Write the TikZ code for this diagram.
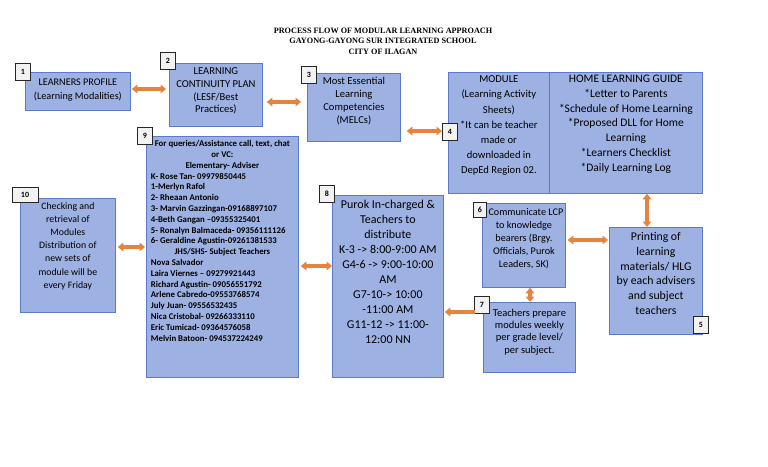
\documentclass[tikz,border=0pt]{standalone}
\usepackage{fontspec}
\setmainfont{Carlito}
\newfontfamily\titlefont{Liberation Serif}
\usetikzlibrary{arrows.meta}
\definecolor{boxfill}{HTML}{9DB1E2}
\definecolor{boxline}{HTML}{5B7BC8}
\definecolor{arrfill}{HTML}{E4843F}
\definecolor{lblfill}{HTML}{F2F2F2}
\tikzset{
  stage/.style={draw=boxline, fill=boxfill, line width=0.8pt, inner sep=0pt, anchor=north west},
  numtag/.style={draw=black!85, fill=lblfill, line width=0.7pt, minimum width=15pt, minimum height=17pt, inner sep=0pt, font=\bfseries\fontsize{8}{9}\selectfont},
  tip/.tip={Triangle[width=9pt,length=5.5pt,line width=0pt]},
  conn/.style={draw=arrfill, line width=3.2pt, {tip}-{tip}},
  conn1/.style={draw=arrfill, line width=3.2pt, -{tip}},
  heading/.style={font=\titlefont\bfseries\fontsize{8.2}{10.5}\selectfont, align=center, inner sep=0pt}
}
% #1 name, #2 left, #3 top, #4 width, #5 height, #6 font, #7 top pad, #8 content
\newcommand\stagebox[8]{%
  \node[stage, minimum width=#4pt, minimum height=#5pt] (#1) at (#2,#3)
  {\begin{minipage}[t][#5pt][t]{#4pt}#6\vspace*{#7pt}#8\end{minipage}};}
\begin{document}
\begin{tikzpicture}[x=1pt,y=-1pt]
\useasboundingbox (0,0) rectangle (768,466);
\fill[white] (0,0) rectangle (768,466);

\node[heading] (title) at (383,41) {PROCESS FLOW OF MODULAR LEARNING APPROACH\\GAYONG-GAYONG SUR INTEGRATED SCHOOL\\CITY OF ILAGAN};

\stagebox{b1}{25}{72}{105}{38}{\fontsize{10.2}{14}\selectfont}{6.5}{\centering LEARNERS PROFILE\\(Learning Modalities)\par}
\stagebox{b2}{169}{63}{93}{63}{\fontsize{10.6}{12.7}\selectfont}{4.4}{\centering LEARNING\\CONTINUITY PLAN\\(LESF/Best\\Practices)\par}
\stagebox{b3}{307}{73}{93}{68}{\fontsize{10.6}{13}\selectfont}{3.4}{\centering Most Essential\\Learning\\Competencies\\(MELCs)\par}
\stagebox{mod}{448}{72}{101}{121}{\fontsize{10.6}{15.2}\selectfont}{3.4}{\centering MODULE\\(Learning Activity\\Sheets)\\{}*It can be teacher\\made or\\downloaded in\\DepEd Region 02.\par}
\stagebox{hlg}{549}{72}{153}{121}{\fontsize{11.5}{14.7}\selectfont}{3}{\centering HOME LEARNING GUIDE\\{}*Letter to Parents\\{}*Schedule of Home Learning\\{}*Proposed DLL for Home\\Learning\\{}*Learners Checklist\\{}*Daily Learning Log\par}
\stagebox{b9}{146}{136}{152}{241}{\bfseries\fontsize{8.8}{10.8}\selectfont}{4.2}{%
\begingroup\centering For queries/Assistance call, text, chat\\or VC:\\Elementary- Adviser\par\endgroup
\begingroup\raggedright\leftskip=4.5pt K- Rose Tan- 09979850445\\1-Merlyn Rafol\\2- Rheaan Antonio\\3- Marvin Gazzingan-09168897107\\4-Beth Gangan --09355325401\\5- Ronalyn Balmaceda- 09356111126\\6- Geraldine Agustin-09261381533\par\endgroup
\begingroup\centering JHS/SHS- Subject Teachers\par\endgroup
\begingroup\raggedright\leftskip=4.5pt Nova Salvador\\Laira Viernes -- 09279921443\\Richard Agustin- 09056551792\\Arlene Cabredo-09553768574\\July Juan- 09556532435\\Nica Cristobal- 09266333110\\Eric Tumicad- 09364576058\\Melvin Batoon- 094537224249\par\endgroup}
\stagebox{b10}{20}{198}{95}{114}{\fontsize{9.8}{13.2}\selectfont}{3.8}{\centering Checking and\\retrieval of\\Modules\\Distribution of\\new sets of\\module will be\\every Friday\par}
\stagebox{b8}{332}{195}{111}{182}{\fontsize{12}{15}\selectfont}{4.8}{\centering Purok In-charged \&\\Teachers to\\distribute\\K-3 -> 8:00-9:00 AM\\G4-6 -> 9:00-10:00\\AM\\G7-10-> 10:00\\-11:00 AM\\G11-12 -> 11:00-\\12:00 NN\par}
\stagebox{b6}{482}{203}{83}{84}{\fontsize{10.2}{13}\selectfont}{5.4}{\centering\hspace*{4pt}Communicate LCP\\to knowledge\\bearers (Brgy.\\Officials, Purok\\Leaders, SK)\par}
\stagebox{b7}{483}{302}{92}{70}{\fontsize{10.5}{12.3}\selectfont}{6.5}{\centering Teachers prepare\\modules weekly\\per grade level/\\per subject.\par}
\stagebox{b5}{609}{227}{93}{107}{\fontsize{11.8}{14.8}\selectfont}{4.9}{\centering Printing of\\learning\\materials/ HLG\\by each advisers\\and subject\\teachers\par}

\node[numtag] (n1) at (23,72) {1};
\node[numtag] (n2) at (168,61) {2};
\node[numtag] (n3) at (309,75) {3};
\node[numtag] (n4) at (450,132) {4};
\node[numtag] (n9) at (145,136) {9};
\node[numtag, minimum width=26pt, minimum height=15pt] (n10) at (25,195) {10};
\node[numtag] (n8) at (327,194) {8};
\node[numtag, minimum width=13pt, minimum height=15pt] (n6) at (480,210) {6};
\node[numtag] (n7) at (482,305) {7};
\node[numtag] (n5) at (701,325) {5};

\draw[conn, shorten <=1pt, shorten >=3pt] (b1.east |- 0,89) -- (b2.west |- 0,89);
\draw[conn, shorten <=4pt, shorten >=6pt] (b2.east |- 0,102) -- (b3.west |- 0,102);
\draw[conn, shorten <=6pt, shorten >=6pt] (b3.east |- 0,131) -- (mod.west |- 0,131);
\draw[conn, shorten <=1pt, shorten >=2pt] (b9.west |- 0,247) -- (b10.east |- 0,247);
\draw[conn, shorten <=2pt, shorten >=0pt] (b9.east |- 0,266) -- (b8.west |- 0,266);
\draw[conn1, shorten <=8pt, shorten >=1pt] (b7.west |- 0,312) -- (b8.east |- 0,312);
\draw[conn] (b6.south -| 530,0) -- (b7.north -| 530,0);
\draw[conn, shorten <=2pt, shorten >=1pt] (b6.east |- 0,240) -- (b5.west |- 0,240);
\draw[conn] (b5.north -| 647,0) -- (hlg.south -| 647,0);
\end{tikzpicture}
\end{document}
